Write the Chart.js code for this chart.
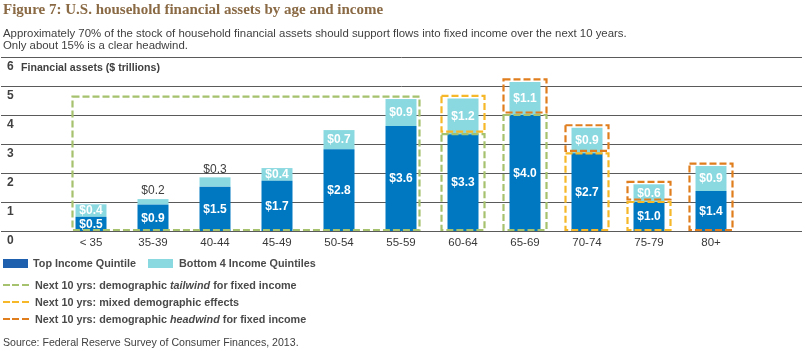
<!DOCTYPE html>
<html>
<head>
<meta charset="utf-8">
<script src="https://cdn.jsdelivr.net/npm/chart.js@4.4.0/dist/chart.umd.min.js"></script>
<style>
  html, body { margin: 0; padding: 0; background: #fff; }
  #wrap { position: relative; width: 805px; height: 351px; overflow: hidden;
          font-family: "Liberation Sans", Arial, sans-serif; color: #404040; }
  #chart { position: absolute; left: 0; top: 0; }
  .t { position: absolute; white-space: nowrap; }
  .title { left: 3px; top: 0; font: bold 15px/18px "Liberation Serif", serif; color: #8a6a45; }
  .sub { left: 3px; top: 27px; font-size: 11.4px; line-height: 12px; }
  .yt { left: 21px; top: 61px; font-weight: bold; font-size: 10.6px; line-height: 12px; }
  .lg { font-size: 10.8px; line-height: 12px; font-weight: bold; color: #4a4a4a; }
  .sw { position: absolute; width: 25px; height: 9px; }
  .dash { position: absolute; left: 3px; width: 26px; height: 2px; }
  .src { left: 3px; top: 336px; font-size: 10.6px; line-height: 12px; }
</style>
</head>
<body>
<div id="wrap">
  <canvas id="chart" width="805" height="351"></canvas>
  <div class="t title">Figure 7: U.S. household financial assets by age and income</div>
  <div class="t sub">Approximately 70% of the stock of household financial assets should support flows into fixed income over the next 10 years.<br>Only about 15% is a clear headwind.</div>
  <div class="t yt">Financial assets ($ trillions)</div>

  <div class="sw" style="left:3px; top:259px; background:#1f60ae"></div>
  <div class="t lg" style="left:33px; top:257px">Top Income Quintile</div>
  <div class="sw" style="left:148px; top:259px; background:#8ad9e0"></div>
  <div class="t lg" style="left:179px; top:257px">Bottom 4 Income Quintiles</div>

  <div class="dash" style="top:284px; background:repeating-linear-gradient(90deg,#a6c26e 0 7px,transparent 7px 9.5px)"></div>
  <div class="t lg" style="left:35px; top:279px">Next 10 yrs: demographic <i>tailwind</i> for fixed income</div>
  <div class="dash" style="top:301px; background:repeating-linear-gradient(90deg,#f6b829 0 7px,transparent 7px 9.5px)"></div>
  <div class="t lg" style="left:35px; top:296px">Next 10 yrs: mixed demographic effects</div>
  <div class="dash" style="top:318px; background:repeating-linear-gradient(90deg,#e07e1e 0 7px,transparent 7px 9.5px)"></div>
  <div class="t lg" style="left:35px; top:313px">Next 10 yrs: demographic <i>headwind</i> for fixed income</div>

  <div class="t src">Source: Federal Reserve Survey of Consumer Finances, 2013.</div>
</div>
<script>
// values, $ trillions
const ageGroups = ['< 35', '35-39', '40-44', '45-49', '50-54', '55-59', '60-64', '65-69', '70-74', '75-79', '80+'];
const topQuintile = [0.49, 0.91, 1.53, 1.73, 2.82, 3.62, 3.34, 4.0, 2.68, 1.0, 1.38];
const bottomQuintiles = [0.43, 0.19, 0.32, 0.44, 0.66, 0.93, 1.23, 1.14, 0.88, 0.61, 0.86];
const yMax = 6;

// dashed outlines: category range + which part of the stack they wrap
const tailwindBoxes = [
  { from: 0, to: 5, part: 'all' },
  { from: 6, to: 6, part: 'bottom' },
  { from: 7, to: 7, part: 'bottom' }
];
const mixedBoxes = [
  { from: 6, to: 6, part: 'top' },
  { from: 8, to: 8, part: 'bottom' },
  { from: 9, to: 9, part: 'bottom' }
];
const headwindBoxes = [
  { from: 7, to: 7, part: 'top' },
  { from: 8, to: 8, part: 'top' },
  { from: 9, to: 9, part: 'top' },
  { from: 10, to: 10, part: 'all' }
];

const DARK = '#0078c1';
const LIGHT = '#8ad9e0';
const GRID = '#5a5a5a';

const fullGrid = {
  id: 'fullGrid',
  beforeDatasetsDraw(chart) {
    const ctx = chart.ctx, y = chart.scales.y;
    ctx.save();
    ctx.strokeStyle = GRID;
    ctx.lineWidth = 1;
    y.ticks.forEach(t => {
      const py = Math.round(y.getPixelForValue(t.value)) + 0.5;
      ctx.beginPath();
      ctx.moveTo(1, py);
      ctx.lineTo(802, py);
      ctx.stroke();
    });
    ctx.restore();
  }
};

const barLabels = {
  id: 'barLabels',
  afterDatasetsDraw(chart) {
    const ctx = chart.ctx;
    ctx.save();
    ctx.textAlign = 'center';
    ctx.textBaseline = 'middle';
    chart.data.datasets.forEach((ds, di) => {
      chart.getDatasetMeta(di).data.forEach((bar, i) => {
        const txt = '$' + ds.data[i].toFixed(1);
        const h = Math.abs(bar.base - bar.y);
        if (h >= 10) {
          ctx.fillStyle = '#fff';
          ctx.font = 'bold 12px "Liberation Sans", Arial, sans-serif';
          ctx.fillText(txt, bar.x, (bar.y + bar.base) / 2 + 0.5);
        } else {
          ctx.fillStyle = '#404040';
          ctx.font = '12px "Liberation Sans", Arial, sans-serif';
          ctx.fillText(txt, bar.x, bar.y - 8);
        }
      });
    });
    ctx.restore();
  }
};

const dashedBoxes = {
  id: 'dashedBoxes',
  afterDatasetsDraw(chart) {
    const ctx = chart.ctx, xs = chart.scales.x, ys = chart.scales.y;
    const half = chart.getDatasetMeta(0).data[0].width / 2;
    const sets = [[tailwindBoxes, '#a6c26e'], [mixedBoxes, '#f6b829'], [headwindBoxes, '#e07e1e']];
    ctx.save();
    ctx.lineWidth = 2.2;
    ctx.setLineDash([7, 3]);
    sets.forEach(([boxes, color]) => {
      ctx.strokeStyle = color;
      boxes.forEach(b => {
        let lo = 0, hi = 0;
        for (let i = b.from; i <= b.to; i++) {
          const tot = topQuintile[i] + bottomQuintiles[i];
          if (b.part === 'bottom') hi = Math.max(hi, topQuintile[i]);
          else hi = Math.max(hi, tot);
          if (b.part === 'top') lo = topQuintile[i];
        }
        const pad = b.from === b.to ? 6 : 3;
        const x1 = xs.getPixelForValue(b.from) - half - pad;
        const x2 = xs.getPixelForValue(b.to) + half + pad;
        const y1 = ys.getPixelForValue(hi) - (b.part === 'bottom' ? 0 : 2.5);
        const y2 = lo === 0 ? ys.getPixelForValue(0) - 1 : ys.getPixelForValue(lo) - 2.5;
        ctx.strokeRect(x1, y1, x2 - x1, y2 - y1);
      });
    });
    ctx.restore();
  }
};

new Chart(document.getElementById('chart'), {
  type: 'bar',
  data: {
    labels: ageGroups,
    datasets: [
      { label: 'Top Income Quintile', data: topQuintile, backgroundColor: DARK },
      { label: 'Bottom 4 Income Quintiles', data: bottomQuintiles, backgroundColor: LIGHT }
    ]
  },
  options: {
    responsive: false,
    animation: false,
    events: [],
    layout: { padding: { left: 7, right: 63, top: 57, bottom: 98 } },
    datasets: { bar: { categoryPercentage: 1, barPercentage: 0.5 } },
    plugins: { legend: { display: false }, tooltip: { enabled: false } },
    scales: {
      x: {
        stacked: true,
        grid: { display: false, drawTicks: false },
        border: { display: false },
        ticks: { color: '#383838', padding: 5, font: { size: 11.5, family: '"Liberation Sans", Arial, sans-serif' } },
        afterFit(s) { s.height = 22; }
      },
      y: {
        stacked: true,
        min: 0,
        max: yMax,
        grid: { display: false, drawTicks: false },
        border: { display: false },
        ticks: {
          stepSize: 1,
          crossAlign: 'far',
          labelOffset: 10,
          color: '#404040',
          font: { size: 12, weight: 'bold', family: '"Liberation Sans", Arial, sans-serif' }
        },
        afterFit(s) { s.width = 53; }
      }
    }
  },
  plugins: [fullGrid, barLabels, dashedBoxes]
});
</script>
</body>
</html>
